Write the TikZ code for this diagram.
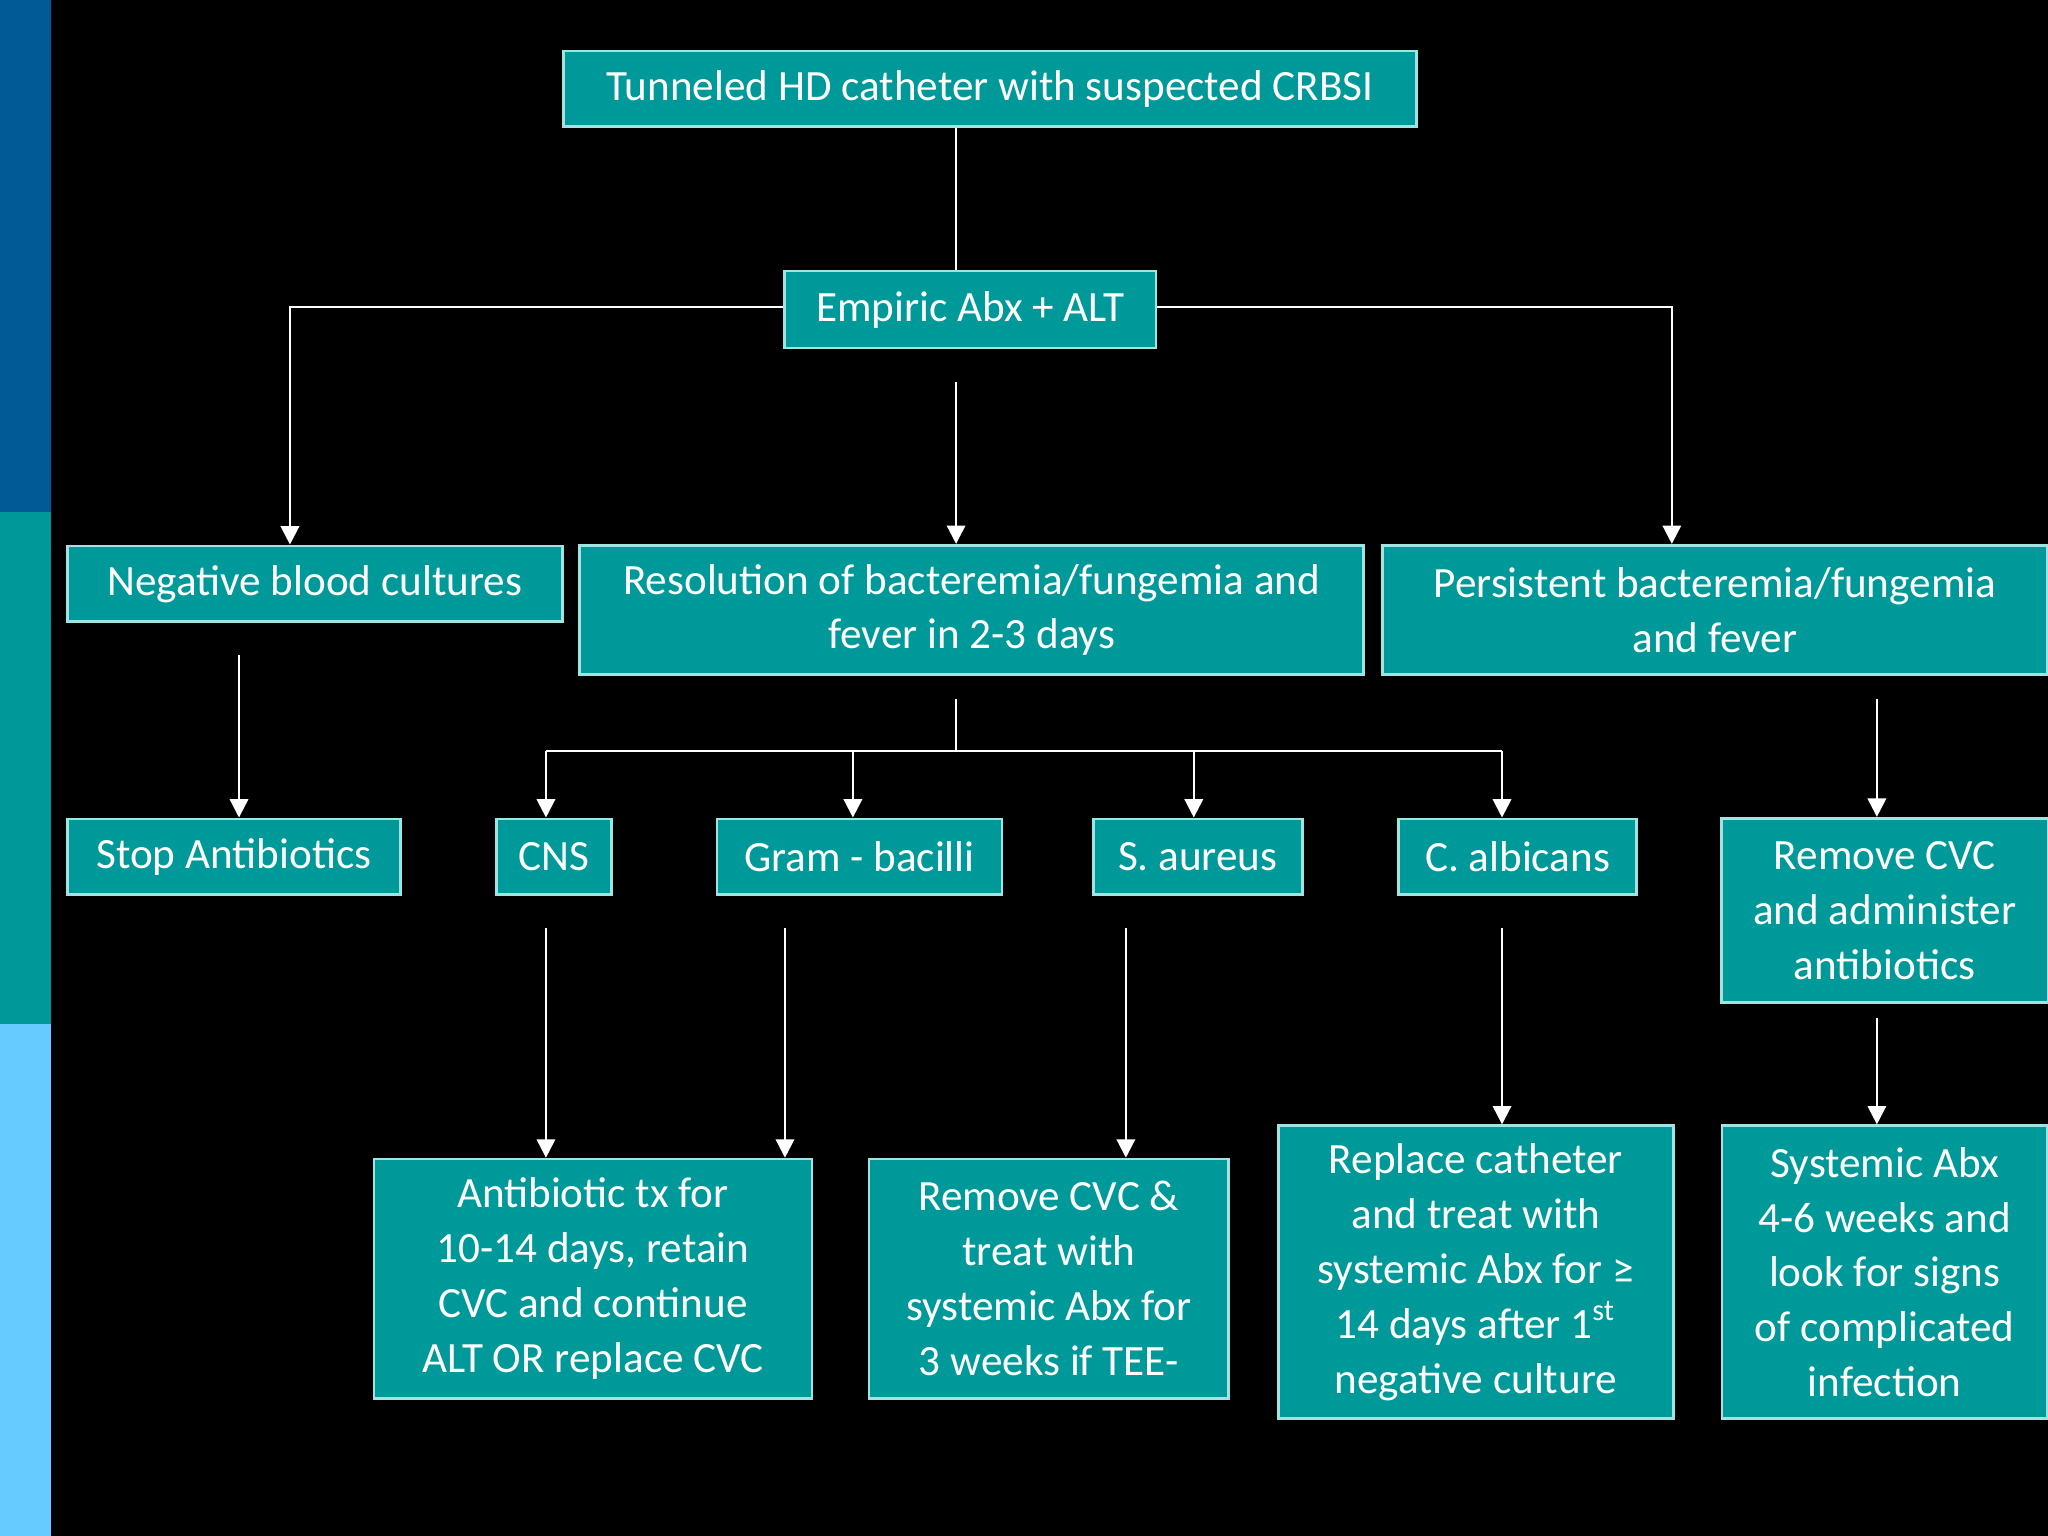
\documentclass[tikz,border=0pt]{standalone}
\usepackage{fontspec}
\setmainfont{Carlito}
\usetikzlibrary{arrows.meta}
\definecolor{teal1}{HTML}{009999}
\definecolor{bar1}{HTML}{005A96}
\definecolor{bar2}{HTML}{009999}
\definecolor{bar3}{HTML}{66CCFF}
\definecolor{edge}{HTML}{9FE3E3}
\begin{document}
\begin{tikzpicture}[x=0.01cm,y=-0.01cm,
 box/.style={draw=edge,line width=0.6pt,fill=teal1,text=white,align=center,inner sep=0pt,font=\fontsize{9.4}{11.95}\selectfont},
 ln/.style={draw=white,line width=0.5pt},
 arr/.style={ln,-{Triangle[length=4pt,width=4pt]}}]
\fill[black] (0,0) rectangle (1568,1176);
\useasboundingbox (0,0) rectangle (1568,1176);
\fill[bar1] (0,0) rectangle (39,392);
\fill[bar2] (0,392) rectangle (39,784);
\fill[bar3] (0,784) rectangle (39,1176);
\node[box,minimum width=6.53cm,minimum height=0.58cm] (top) at (758,68) {Tunneled HD catheter with suspected CRBSI};
\node[box,minimum width=2.84cm,minimum height=0.59cm] (emp) at (743,237) {Empiric Abx + ALT};
\node[box,minimum width=3.79cm,minimum height=0.58cm] (neg) at (241,447) {Negative blood cultures};
\node[box,minimum width=6.00cm,minimum height=0.99cm] (res) at (744,467) {Resolution of bacteremia/fungemia and\\fever in 2-3 days};
\node[box,minimum width=5.09cm,minimum height=0.99cm] (per) at (1313,467) {Persistent bacteremia/fungemia\\and fever};
\node[box,minimum width=2.55cm,minimum height=0.58cm] (stop) at (179,656) {Stop Antibiotics};
\node[box,minimum width=0.88cm,minimum height=0.58cm] (cns) at (424,656) {CNS};
\node[box,minimum width=2.18cm,minimum height=0.58cm] (gram) at (658,656) {Gram - bacilli};
\node[box,minimum width=1.60cm,minimum height=0.58cm] (sa) at (917,656) {S. aureus};
\node[box,minimum width=1.82cm,minimum height=0.58cm] (ca) at (1162,656) {C. albicans};
\node[box,minimum width=2.50cm,minimum height=1.41cm] (rem) at (1443,697) {Remove CVC\\and administer\\antibiotics};
\node[box,minimum width=3.35cm,minimum height=1.83cm] (ab1) at (454,979) {Antibiotic tx for\\10-14 days, retain\\CVC and continue\\ALT OR replace CVC};
\node[box,minimum width=2.75cm,minimum height=1.83cm] (cvc) at (803,979) {Remove CVC \&\\treat with\\systemic Abx for\\3 weeks if TEE-};
\node[box,minimum width=3.02cm,minimum height=2.24cm] (rep) at (1130,974) {Replace catheter\\and treat with\\systemic Abx for ≥\\14 days after 1\textsuperscript{st}\\negative culture};
\node[box,minimum width=2.49cm,minimum height=2.24cm] (sys) at (1443,974) {Systemic Abx\\4-6 weeks and\\look for signs\\of complicated\\infection};
\coordinate (x183) at (183,0);
\coordinate (x222) at (222,0);
\coordinate (x732) at (732,0);
\coordinate (x1280) at (1280,0);
\coordinate (x418) at (418,0);
\coordinate (x653) at (653,0);
\coordinate (x914) at (914,0);
\coordinate (x1150) at (1150,0);
\coordinate (x601) at (601,0);
\coordinate (x862) at (862,0);
\coordinate (x1437) at (1437,0);
\coordinate (ybar) at (0,575);
\coordinate (yemp) at (0,235);
\draw[ln] (top.south -| x732) -- (emp.north -| x732);
\draw[arr] (emp.west |- yemp) -| (neg.north -| x222);
\draw[arr] (emp.east |- yemp) -| (per.north -| x1280);
\draw[arr,shorten <=7pt] (emp.south -| x732) -- (res.north -| x732);
\draw[arr,shorten <=7pt] (neg.south -| x183) -- (stop.north -| x183);
\draw[ln,shorten <=5pt] (res.south -| x732) -- (x732 |- ybar);
\draw[ln] (x418 |- ybar) -- (x1150 |- ybar);
\draw[arr] (x418 |- ybar) -- (cns.north -| x418);
\draw[arr] (x653 |- ybar) -- (gram.north -| x653);
\draw[arr] (x914 |- ybar) -- (sa.north -| x914);
\draw[arr] (x1150 |- ybar) -- (ca.north -| x1150);
\draw[arr,shorten <=5pt] (per.south -| x1437) -- (rem.north -| x1437);
\draw[arr,shorten <=7pt] (cns.south -| x418) -- (ab1.north -| x418);
\draw[arr,shorten <=7pt] (gram.south -| x601) -- (ab1.north -| x601);
\draw[arr,shorten <=7pt] (sa.south -| x862) -- (cvc.north -| x862);
\draw[arr,shorten <=7pt] (ca.south -| x1150) -- (rep.north -| x1150);
\draw[arr,shorten <=3pt] (rem.south -| x1437) -- (sys.north -| x1437);
\end{tikzpicture}
\end{document}
